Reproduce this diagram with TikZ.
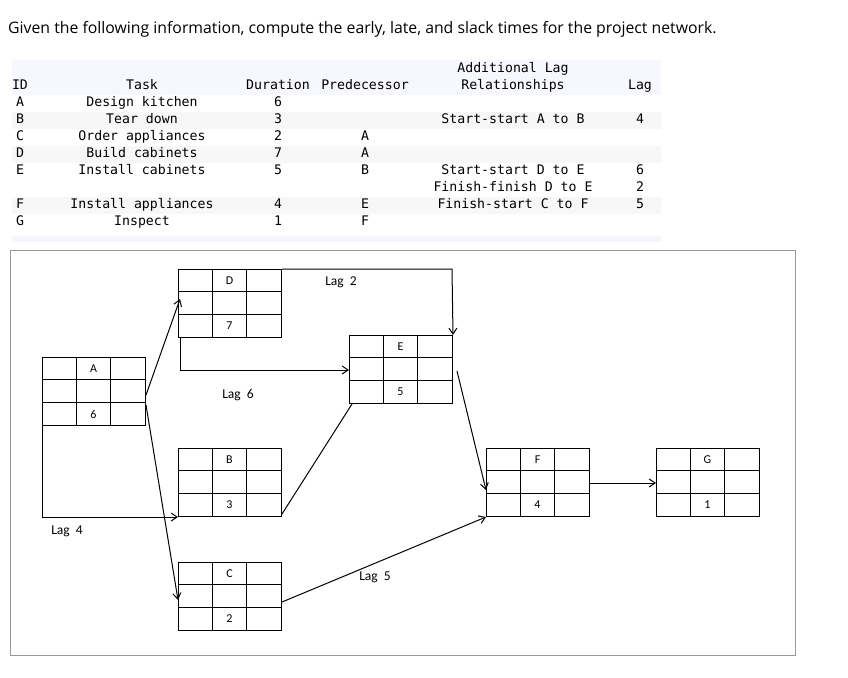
\documentclass[tikz,border=0pt]{standalone}
\usepackage{fontspec}
\setmainfont{Liberation Sans}
\newfontfamily\titf{Open Sans}
\newfontfamily\monof{DejaVu Sans Mono}
\newfontfamily\calf{Carlito}
\usetikzlibrary{calc,arrows.meta}
\begin{document}
\begin{tikzpicture}[x=1pt,y=-1pt,
  tb/.style={font=\monof\fontsize{13.2}{15}\selectfont,inner sep=0pt,anchor=base},
  nl/.style={font=\calf\fontsize{12}{14}\selectfont,inner sep=0pt},
  lag/.style={font=\calf\fontsize{13.5}{15}\selectfont,inner sep=0pt},
  arr/.style={-{Straight Barb[length=6pt,width=8pt]},line width=1pt},
  ln/.style={line width=1pt}]
\useasboundingbox (0,0) rectangle (848,677);
\node[anchor=base west,inner sep=0pt,font=\titf\fontsize{15.8}{18}\selectfont] (title) at (8,34) {Given the following information, compute the early, late, and slack times for the project network.};
% table
\fill[black!12!blue!3!white] (12,60) rectangle (661,95);
\fill[black!3] (12,112) rectangle (661,129);
\fill[black!3] (12,146) rectangle (661,163);
\fill[black!3] (12,197) rectangle (661,214);
\fill[black!15!blue!4!white] (12,236) rectangle (661,242);
\node[tb] (hid) at (20,89) {ID};
\node[tb] (htask) at (142,89) {Task};
\node[tb] (hdur) at (278,89) {Duration};
\node[tb] (hpred) at (365,89) {Predecessor};
\node[tb] (hadd1) at (513,72) {Additional Lag};
\node[tb] (hadd2) at (513,89) {Relationships};
\node[tb] (hlag) at (640,89) {Lag};
\foreach \i/\id/\t/\d/\p/\a/\l [count=\n] in {
 106/A/Design kitchen/6///,
 123/B/Tear down/3//Start-start A to B/4,
 140/C/Order appliances/2/A//,
 157/D/Build cabinets/7/A//,
 174/E/Install cabinets/5/B/Start-start D to E/6,
 191/////Finish-finish D to E/2,
 208/F/Install appliances/4/E/Finish-start C to F/5,
 225/G/Inspect/1/F//}{
 \node[tb] (r\n a) at (20,\i) {\id};
 \node[tb] (r\n b) at (142,\i) {\t};
 \node[tb] (r\n c) at (278,\i) {\d};
 \node[tb] (r\n d) at (365,\i) {\p};
 \node[tb] (r\n e) at (513,\i) {\a};
 \node[tb] (r\n f) at (640,\i) {\l};
}
% frame
\draw[black!40,line width=0.6pt] (10,250) rectangle (795,655);
% boxes
\newcommand{\actbox}[5]{% name, left, top, toptext, bottomtext
 \node[draw,line width=1pt,minimum width=103pt,minimum height=68pt,inner sep=0pt,anchor=north west] (#1) at (#2,#3) {};
 \draw[ln] ($(#1.north west)+(34.3,0)$) -- ($(#1.south west)+(34.3,0)$)
   ($(#1.north west)+(68.7,0)$) -- ($(#1.south west)+(68.7,0)$)
   ($(#1.north west)+(0,22.7)$) -- ($(#1.north east)+(0,22.7)$)
   ($(#1.north west)+(0,45.3)$) -- ($(#1.north east)+(0,45.3)$);
 \node[nl] (#1t) at ($(#1.north west)+(51.5,11.5)$) {#4};
 \node[nl] (#1b) at ($(#1.north west)+(51.5,57)$) {#5};
}
\actbox{A}{42}{357}{A}{6}
\actbox{D}{178}{269}{D}{7}
\actbox{E}{349}{335}{E}{5}
\actbox{B}{178}{448}{B}{3}
\actbox{C}{178}{562}{C}{2}
\actbox{F}{486}{448}{F}{4}
\actbox{G}{656}{448}{G}{1}
\coordinate (c1) at (42,517);
\coordinate (c2) at (180,370);
\coordinate (c3) at (452,269);
% connectors
\draw[arr] ($(A.north east)+(0,38)$) -- ($(D.north west)+(2,30)$);
\draw[arr] ($(A.north east)+(0,48)$) -- ($(C.north west)+(0,38)$);
\draw[arr] (A.south west) -- (c1) -- (B.south west);
\draw[arr] ($(D.south west)+(2,0)$) -- (c2) -- ($(E.north west)+(0,35)$);
\draw[arr] (D.north east) -- (c3) -- (E.north east);
\draw[ln] ($(B.north east)+(0,66)$) -- ($(E.south west)+(3,0)$);
\draw[arr] ($(E.north east)+(4,36)$) -- ($(F.north west)+(0,42)$);
\draw[arr] ($(C.north east)+(0,40)$) -- (F.south west);
\draw[arr] ($(F.north east)+(0,35)$) -- ($(G.north west)+(0,35)$);
% lags
\node[lag] (l2) at (341,282) {Lag\ \ 2};
\node[lag] (l6) at (238,395) {Lag\ \ 6};
\node[lag] (l4) at (67,531) {Lag\ \ 4};
\node[lag] (l5) at (375,577) {Lag\ \ 5};
\end{tikzpicture}
\end{document}
